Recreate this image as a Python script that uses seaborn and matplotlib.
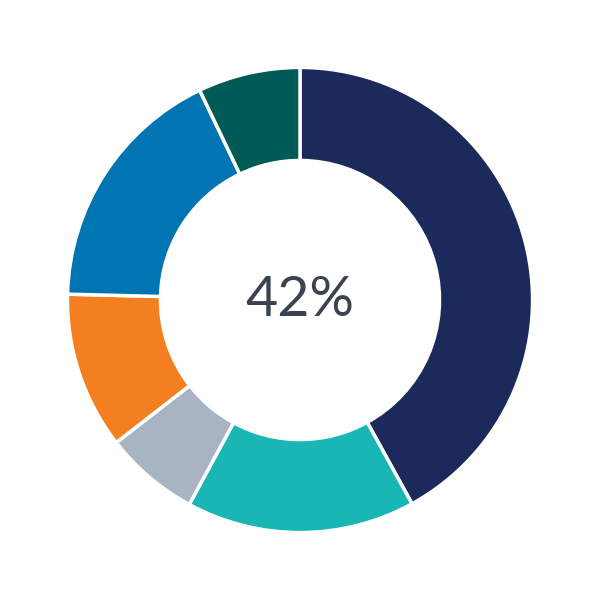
import matplotlib
matplotlib.use("Agg")
import matplotlib.pyplot as plt
import seaborn as sns

sns.set_theme(style="white")

categories = ["Navy", "Teal", "Gray", "Orange", "Blue", "Green"]
values = [42, 15.9, 6.6, 10.9, 17.5, 7.1]
colors = ["#1b2a5a", "#1ab5b5", "#a9b4c3", "#f47f20", "#0174b4", "#005a55"]
center_label = "42%"

fig, ax = plt.subplots(figsize=(6, 6), dpi=100)
fig.subplots_adjust(left=0, right=1, top=1, bottom=0)
ax.pie(values, colors=colors, startangle=90, counterclock=False, radius=1.0,
       wedgeprops=dict(width=0.4, edgecolor="white", linewidth=2.5))
ax.set_xlim(-1.29, 1.29)
ax.set_ylim(-1.29, 1.29)
ax.set_aspect("equal")
ax.text(0, 0, center_label, ha="center", va="center", fontsize=40,
        color="#3b4250", family=["Lato", "DejaVu Sans"], fontweight="normal")
ax.axis("off")
fig.savefig("out.png", dpi=100, facecolor="white")
